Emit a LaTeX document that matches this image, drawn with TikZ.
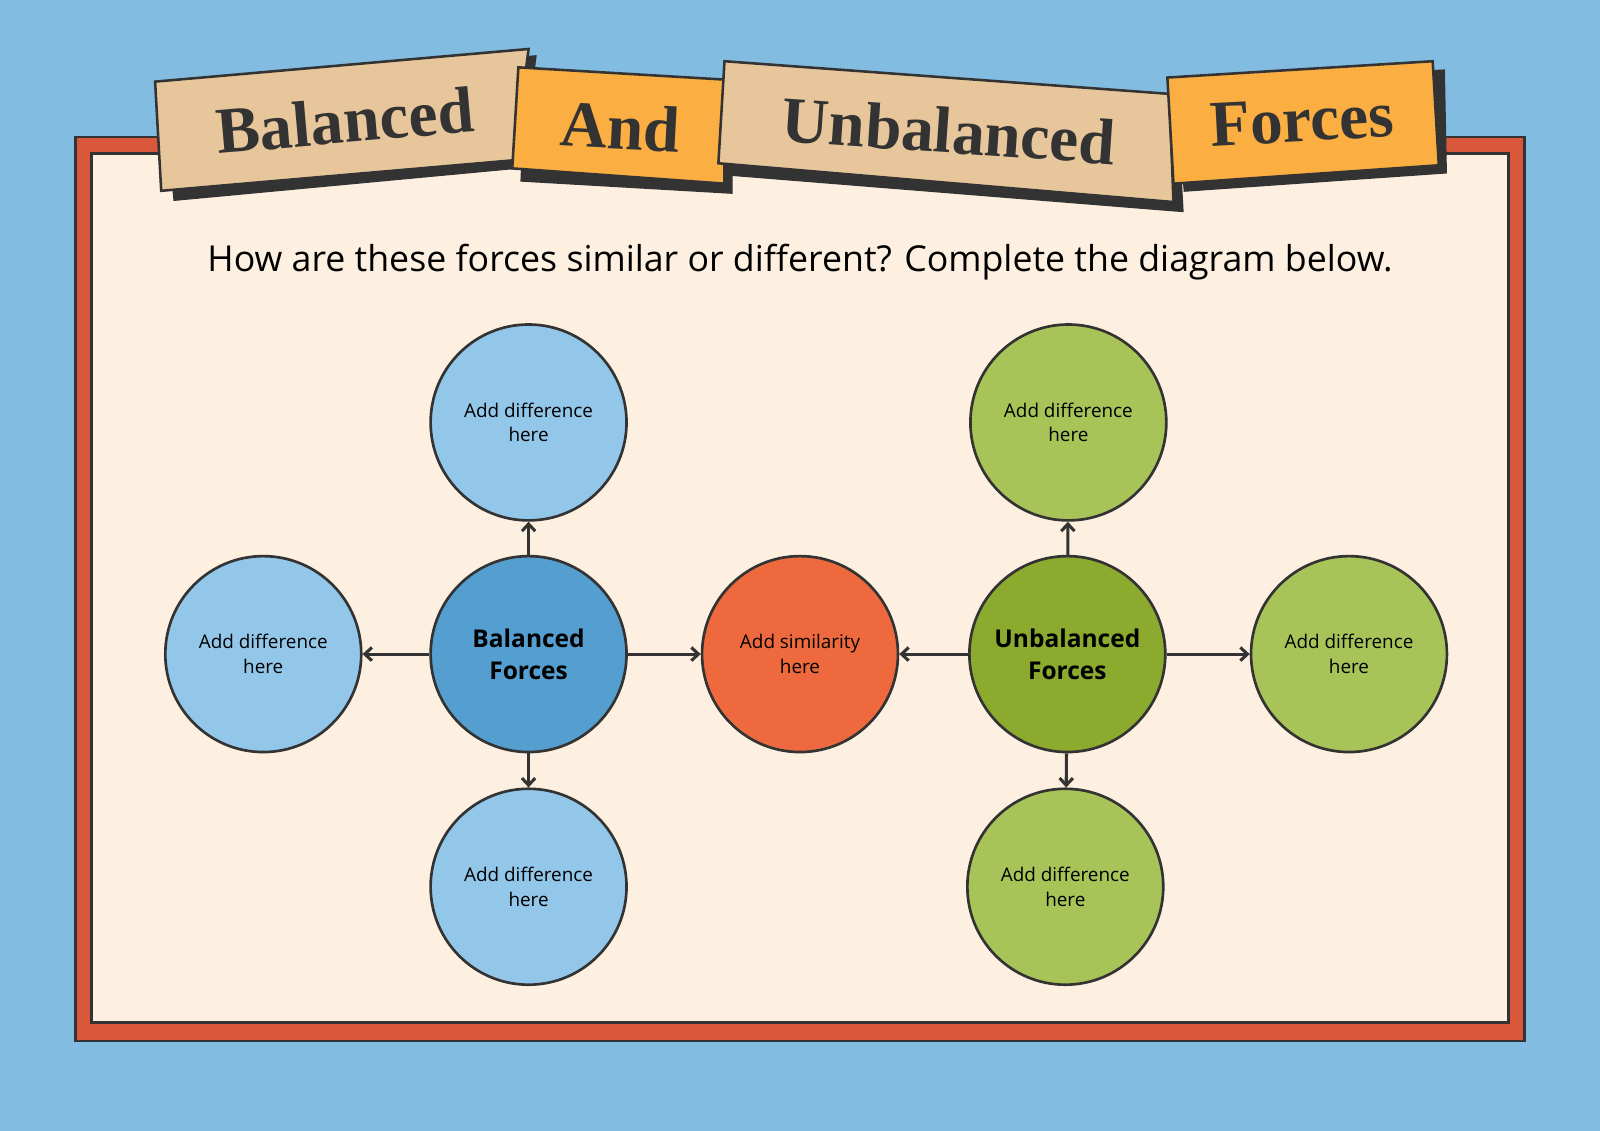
\documentclass[tikz,border=0pt]{standalone}
\usepackage{fontspec}
\setmainfont{Liberation Serif}
\newfontfamily\dm{Open Sans}
\usetikzlibrary{arrows.meta}
\definecolor{bg}{HTML}{83BCE1}
\definecolor{frame}{HTML}{D9573B}
\definecolor{cream}{HTML}{FDF0E0}
\definecolor{ink}{HTML}{333333}
\definecolor{tan}{HTML}{E8C69C}
\definecolor{orng}{HTML}{FBAE42}
\definecolor{lblue}{HTML}{93C7E9}
\definecolor{mblue}{HTML}{549FCF}
\definecolor{redc}{HTML}{EE6A3E}
\definecolor{lgreen}{HTML}{A8C459}
\definecolor{dgreen}{HTML}{8BAA2E}
\tikzset{
 circ/.style={circle,draw=ink,line width=2.6pt,minimum size=192pt,inner sep=0pt,align=center,font=\dm\fontsize{18.5}{24}\selectfont},
 hub/.style={circ,font=\dm\bfseries\fontsize{24}{31}\selectfont},
 arr/.style={draw=ink,line width=3pt,-{Straight Barb[length=7pt,width=13pt,line width=3pt]}},
 ban/.style={draw=ink,line width=2.5pt},
 sh/.style={fill=ink},
 ttl/.style={font=\bfseries\fontsize{64}{70}\selectfont,text=ink}
}
\begin{document}
\begin{tikzpicture}[x=1pt,y=-1pt]
\useasboundingbox (0,0) rectangle (1568,1108);
\fill[bg] (0,0) rectangle (1568,1108);
\filldraw[fill=frame,draw=ink,line width=2pt] (74,134) rectangle (1494,1020);
\filldraw[fill=cream,draw=ink,line width=3pt] (90,150) rectangle (1478,1002);
% banners shadows
\fill[sh] (160,86)--(526,54)--(512,165)--(170,197)--cycle;
\fill[sh] (514,72)--(718,84)--(718,190)--(510,178)--cycle;
\fill[sh] (716,66)--(1154,100)--(1160,208)--(712,172)--cycle;
\fill[sh] (1152,82)--(1416,68)--(1418,170)--(1160,188)--cycle;
% banners
\filldraw[ban,fill=tan] (152,80)--(518,48)--(504,157)--(158,187)--cycle;
\filldraw[ban,fill=orng] (508,66)--(710,78)--(710,180)--(502,165)--cycle;
\filldraw[ban,fill=tan] (710,60)--(1146,92)--(1150,198)--(704,160)--cycle;
\filldraw[ban,fill=orng] (1144,76)--(1404,60)--(1410,162)--(1150,180)--cycle;
\node[ttl,rotate=5] (t1) at (338,118) {Balanced};
\node[ttl,rotate=-3] (t2) at (608,124) {And};
\node[ttl,rotate=-4] (t3) at (930,128) {Unbalanced};
\node[ttl,rotate=3] (t4) at (1276,118) {Forces};
\node[font=\dm\fontsize{35}{42}\selectfont,text=black] (q) at (784,257) {How are these forces similar or different? Complete the diagram below.};
% circles
\node[circ,fill=lblue] (bu) at (518,414) {Add difference\\here};
\node[circ,fill=lblue] (bl) at (258,641) {Add difference\\here};
\node[circ,fill=lblue] (bd) at (518,869) {Add difference\\here};
\node[hub,fill=mblue] (b) at (518,641) {Balanced\\Forces};
\node[circ,fill=redc] (s) at (784,641) {Add similarity\\here};
\node[hub,fill=dgreen] (u) at (1046,641) {Unbalanced\\Forces};
\node[circ,fill=lgreen] (uu) at (1047,414) {Add difference\\here};
\node[circ,fill=lgreen] (ur) at (1322,641) {Add difference\\here};
\node[circ,fill=lgreen] (ud) at (1044,869) {Add difference\\here};
\draw[arr] (b) -- (bu);
\draw[arr] (b) -- (bl);
\draw[arr] (b) -- (bd);
\draw[arr] (b) -- (s);
\draw[arr] (u) -- (s);
\draw[arr] (u) -- (uu);
\draw[arr] (u) -- (ur);
\draw[arr] (u) -- (ud);
\end{tikzpicture}
\end{document}
